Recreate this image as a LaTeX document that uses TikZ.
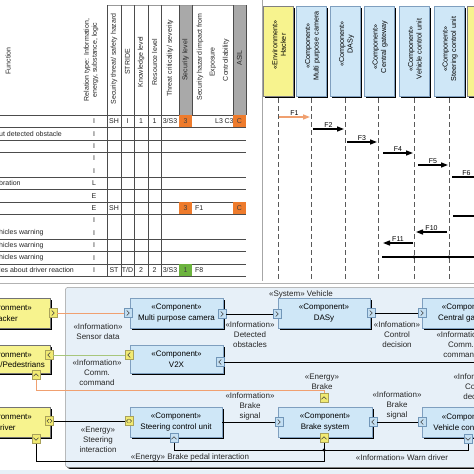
\documentclass[tikz,border=0pt]{standalone}
\usepackage{fontspec}
\setmainfont{Liberation Sans}
\usetikzlibrary{arrows.meta,shadows}
\definecolor{envY}{HTML}{F7F38E}
\definecolor{compB}{HTML}{CFE7F7}
\definecolor{compBd}{HTML}{7F9FBF}
\definecolor{portY}{HTML}{F1EA72}
\definecolor{portYd}{HTML}{A9A25A}
\definecolor{portB}{HTML}{C4DFF2}
\definecolor{portBd}{HTML}{7196B8}
\definecolor{orL}{HTML}{F0A070}
\definecolor{grL}{HTML}{A8C67C}
\definecolor{cellO}{HTML}{EE7B2C}
\definecolor{cellG}{HTML}{6CB33E}
\definecolor{hdrG}{HTML}{A9A9A9}
\definecolor{sysB}{HTML}{E7F0F8}
\tikzset{
 tt/.style={font=\fontsize{7}{8}\selectfont, inner sep=0pt, text=black!85},
 hdr/.style={tt, rotate=90, align=center},
 grid/.style={draw=black!70, line width=0.6pt},
 hcell/.style={inner sep=0pt, minimum width=13pt, minimum height=12.4pt, font=\fontsize{7}{8}\selectfont, text=black!75},
 shadowed/.style={drop shadow={shadow xshift=1.6pt, shadow yshift=-1.6pt, opacity=1, fill=black}},
 headY/.style={draw=black!50, fill=envY, line width=0.4pt, minimum width=30pt, minimum height=90pt, inner sep=0pt, shadowed},
 headB/.style={headY, draw=compBd, fill=compB},
 headtxt/.style={font=\fontsize{7.2}{8.5}\selectfont, rotate=90, align=center, inner sep=0pt},
 lifeline/.style={draw=black!65, line width=0.8pt, dash pattern=on 5pt off 3pt},
 msg/.style={draw=black, line width=1.3pt, -{Triangle[length=7pt,width=5pt]}},
 msgO/.style={msg, draw=orL, color=orL},
 flab/.style={above, font=\fontsize{7}{8}\selectfont, inner sep=1pt, text=black},
 ebox/.style={draw=black!55, fill=envY, line width=0.4pt, inner sep=0pt, shadowed, font=\fontsize{8}{10.5}\selectfont, align=center},
 cbox/.style={ebox, draw=compBd, fill=compB},
 btxt/.style={font=\fontsize{8}{10.5}\selectfont, inner sep=0pt, align=center},
 lbl/.style={font=\fontsize{8}{10}\selectfont, inner sep=0pt, align=center, text=black!85},
 port/.style={minimum width=8pt, minimum height=9pt, inner sep=0pt, line width=0.4pt},
 pY/.style={port, draw=portYd, fill=portY},
 pB/.style={port, draw=portBd, fill=portB},
 chv/.style={draw=black!75, line width=0.5pt},
 pR/.style={path picture={\draw[chv, shift={(path picture bounding box.center)}] (-1.3pt,2.5pt) -- (1.3pt,0pt) -- (-1.3pt,-2.5pt);}},
 pL/.style={path picture={\draw[chv, shift={(path picture bounding box.center)}] (1.3pt,2.5pt) -- (-1.3pt,0pt) -- (1.3pt,-2.5pt);}},
 pU/.style={path picture={\draw[chv, shift={(path picture bounding box.center)}] (-2.5pt,-1.3pt) -- (0pt,1.3pt) -- (2.5pt,-1.3pt);}},
 pD/.style={path picture={\draw[chv, shift={(path picture bounding box.center)}] (-2.5pt,1.3pt) -- (0pt,-1.3pt) -- (2.5pt,1.3pt);}},
 pLR/.style={path picture={\draw[chv, shift={(path picture bounding box.center)}] (-0.6pt,2pt) -- (-2.6pt,0pt) -- (-0.6pt,-2pt) (0.6pt,2pt) -- (2.6pt,0pt) -- (0.6pt,-2pt);}},
 conn/.style={draw=black, line width=1pt},
 connO/.style={draw=orL, line width=1pt},
 connG/.style={draw=grL, line width=1pt},
}
\begin{document}
\begin{tikzpicture}[x=1pt,y=-1pt]
\useasboundingbox (0,0) rectangle (474,474);
\clip (0,0) rectangle (474,474);
\fill[white] (0,0) rectangle (474,474);

% ================= TABLE =================
\fill[hdrG] (179,5) rectangle (192,115);
\fill[hdrG] (233,5) rectangle (246,115);
\draw[grid, draw=black!40] (107,5) -- (246,5);
\foreach \x in {107,121,134,148,161,179,192,233,246} \draw[grid] (\x,5) -- (\x,115);
\draw[grid] (0,115) -- (246,115);
\foreach \y in {127.4,139.8,152.2,177,189.4,201.8,214.2,239,251.4,263.8,276.2} \draw[grid] (0,\y) -- (246,\y);
\foreach \x in {107,121,134,148,161} \draw[grid] (\x,115) -- (\x,276.2);

\node[hdr] (hFun) at (8,61) {Function};
\node[hdr] (hRel) at (91,60) {Relation type: Information,\\energy, substance, logic};
\node[hdr] (hSec) at (114,59) {Security threat/ safety hazard};
\node[hdr] (hStr) at (127.5,62) {STRIDE};
\node[hdr] (hKno) at (141,62) {Knowledge level};
\node[hdr] (hRes) at (154.5,62) {Resource level};
\node[hdr] (hThr) at (170,58) {Threat criticality/ severity};
\node[hdr] (hSL) at (185.5,60) {Security level};
\node[hdr] (hImp) at (200,57) {Security hazard impact from};
\node[hdr] (hExp) at (213,62) {Exposure};
\node[hdr] (hCon) at (226,60) {Controllability};
\node[hdr] (hAsil) at (239.5,58) {ASIL};

\foreach \r/\v in {1/I,2/I,3/I,4/I,5/I,6/L,7/E,8/E,9/I,10/I,11/I,12/I,13/I}
  \node[tt] (rel\r) at (94,{115+12.4*(\r-0.5)}) {\v};

\node[tt, anchor=west] (fn2) at (-1,133.6) {ut detected obstacle};
\node[tt, anchor=west] (fn6) at (-1,183.2) {bration};
\node[tt, anchor=west] (fn10) at (-1,232.8) {hicles warning};
\node[tt, anchor=west] (fn11) at (-1,245.2) {hicles warning};
\node[tt, anchor=west] (fn12) at (-1,257.6) {hicles warning};
\node[tt, anchor=west] (fn13) at (-1,270) {les about driver reaction};

% row 1
\node[tt] (r1a) at (114,121.2) {SH};
\node[tt] (r1b) at (127.5,121.2) {I};
\node[tt] (r1c) at (141,121.2) {1};
\node[tt] (r1d) at (154.5,121.2) {1};
\node[tt] (r1e) at (170,121.2) {3/S3};
\node[hcell, fill=cellO] (r1f) at (185.5,121.2) {3};
\node[tt] (r1g) at (219,121.2) {L3};
\node[tt] (r1h) at (229,121.2) {C3};
\node[hcell, fill=cellO] (r1i) at (239.5,121.2) {C};
% row 8
\node[tt] (r8a) at (114,208) {SH};
\node[hcell, fill=cellO] (r8f) at (185.5,208) {3};
\node[tt, anchor=west] (r8g) at (195,208) {F1};
\node[hcell, fill=cellO] (r8i) at (239.5,208) {C};
% row 13
\node[tt] (r13a) at (114,270) {ST};
\node[tt] (r13b) at (127.5,270) {T/D};
\node[tt] (r13c) at (141,270) {2};
\node[tt] (r13d) at (154.5,270) {2};
\node[tt] (r13e) at (170,270) {3/S3};
\node[hcell, fill=cellG] (r13f) at (185.5,270) {1};
\node[tt, anchor=west] (r13g) at (195,270) {F8};

% ================= SEQUENCE =================
\draw[draw=black!35, line width=0.5pt] (262,0) -- (262,281);
\node[headY] (hd1) at (278,51) {};
\node[headB] (hd2) at (311.5,51) {};
\node[headB] (hd3) at (345.5,51) {};
\node[headB] (hd4) at (379,51) {};
\node[headB] (hd5) at (414,51) {};
\node[headB] (hd6) at (449,51) {};
\node[headY] (hd7) at (482,51) {};
\node[headtxt] (ht1) at (279,45) {«Environment»\\Hacker};
\node[headtxt] (ht2) at (312.5,46) {«Component»\\Multi purpose camera};
\node[headtxt] (ht3) at (346.5,44) {«Component»\\DASy};
\node[headtxt] (ht4) at (380,47) {«Component»\\Central gateway};
\node[headtxt] (ht5) at (415,49) {«Component»\\Vehicle control unit};
\node[headtxt] (ht6) at (450,49) {«Component»\\Steering control unit};
\foreach \i/\x in {1/278,2/311,3/345,4/378,5/414,6/449,7/482}{
  \coordinate (le\i) at (\x,281);
  \coordinate (ls\i) at (\x,98);
  \draw[lifeline] (ls\i) -- (le\i);
}
\coordinate (f1s) at (279,117); \coordinate (f1e) at (310,117);
\coordinate (f2s) at (313,129); \coordinate (f2e) at (344,129);
\coordinate (f3s) at (347,142); \coordinate (f3e) at (377,142);
\coordinate (f4s) at (383,153); \coordinate (f4e) at (413,153);
\coordinate (f5s) at (418,165); \coordinate (f5e) at (448,165);
\coordinate (f6s) at (452,177); \coordinate (f6e) at (481,177);
\coordinate (f7s) at (453,216); \coordinate (f7e) at (482,216);
\coordinate (f10s) at (447,232); \coordinate (f10e) at (416,232);
\coordinate (f11s) at (413,243); \coordinate (f11e) at (383,243);
\coordinate (f12s) at (382,257); \coordinate (f12e) at (482,257);
\draw[msgO] (f1s) -- node[flab] (l1) {F1} (f1e);
\draw[msg] (f2s) -- node[flab] (l2) {F2} (f2e);
\draw[msg] (f3s) -- node[flab] (l3) {F3} (f3e);
\draw[msg] (f4s) -- node[flab] (l4) {F4} (f4e);
\draw[msg] (f5s) -- node[flab] (l5) {F5} (f5e);
\draw[msg] (f6s) -- node[flab] (l6) {F6} (f6e);
\draw[draw=black, line width=1.3pt] (f7s) -- (f7e);
\draw[msg] (f10s) -- node[flab] (l10) {F10} (f10e);
\draw[msg] (f11s) -- node[flab] (l11) {F11} (f11e);
\draw[draw=black, line width=1.3pt] (f12s) -- (f12e);
\fill (414,257) circle (1.6pt);
\fill (449,257) circle (1.6pt);

% ================= BLOCK DIAGRAM =================
\draw[draw=black!30, line width=0.6pt] (0,283) -- (474,283);
\fill[sysB] (0,470) rectangle (474,474);
\node[draw=black!40, fill=sysB, line width=0.5pt, rounded corners=3pt, anchor=north west, minimum width=440pt, minimum height=180pt, inner sep=0pt, shadowed] (sys) at (65,287) {};
\node[lbl] (sysl) at (301,294) {«System» Vehicle};

\node[ebox, minimum width=90pt, minimum height=30pt] (hackE) at (5,313) {«Environment»\\Hacker};
\node[ebox, minimum width=90pt, minimum height=28pt] (othE) at (5,359) {};
\node[btxt] (othT1) at (5,355) {«Environment»};
\node[btxt, anchor=east] (othT2) at (45,365) {/Pedestrians};
\node[ebox, minimum width=90pt, minimum height=30pt] (drvE) at (5,422) {«Environment»\\Driver};

\node[cbox, minimum width=93pt, minimum height=30pt] (cam) at (176.5,313) {«Component»\\Multi purpose camera};
\node[cbox, minimum width=93pt, minimum height=28pt] (v2x) at (176.5,359) {«Component»\\V2X};
\node[cbox, minimum width=92pt, minimum height=30pt] (das) at (324,313) {«Component»\\DASy};
\node[cbox, minimum width=90pt, minimum height=30pt] (cgw) at (467,313) {«Component»\\Central gateway};
\node[cbox, minimum width=92pt, minimum height=30pt] (str) at (176,422) {«Component»\\Steering control unit};
\node[cbox, minimum width=94pt, minimum height=30pt] (brk) at (325,422) {«Component»\\Brake system};
\node[cbox, minimum width=90pt, minimum height=30pt] (vcu) at (467,422) {«Component»\\Vehicle control unit};

% ports
\node[pY, pR] (hackP) at (53,313) {};
\node[pB, pR] (camL) at (128,313) {};
\node[pB, pR] (camR) at (222,314) {};
\node[pB, pR] (dasL) at (277,314) {};
\node[pB, pR] (dasR) at (371,313) {};
\node[pB, pR] (cgwL) at (422,313) {};
\node[pY, pL] (othP) at (49,355) {};
\node[pY, pU] (othB) at (36,375) {};
\node[pY, pL] (v2xL) at (129,355) {};
\node[pB, pL] (v2xR) at (220,362) {};
\node[pY, pLR] (drvP) at (49.5,421) {};
\node[pY, pD] (drvB) at (36,439) {};
\node[pY, pLR] (strL) at (129,421) {};
\node[pB, pU] (strB) at (174,438) {};
\node[pY, pU] (brkT) at (324,398) {};
\node[pY, pU] (brkB) at (324,438) {};
\node[pB, pR] (brkL) at (279,422) {};
\node[pB, pL] (brkR) at (373,422) {};
\node[pB, pL] (vcuL) at (422,422) {};
\node[pB, pD] (vcuB) at (468,439) {};

% connectors
\coordinate (jo1) at (36,390);
\coordinate (v2xE) at (480,362);
\coordinate (jd1) at (36,461);
\coordinate (jw1) at (174,450);
\coordinate (jw2) at (468,450);
\draw[connO] (hackP) -- (camL);
\draw[connG] (othP) -- (v2xL);
\draw[connO] (othB) -- (jo1) -| (brkT);
\draw[conn] (camR) -- (dasL);
\draw[conn] (dasR) -- (cgwL);
\draw[conn] (v2xR) -- (v2xE);
\draw[conn] (drvP) -- (strL);
\draw[conn] (str) -- (brkL);
\draw[conn] (brkR) -- (vcuL);
\draw[conn] (drvB) -- (jd1) -| (brkB);
\draw[conn] (strB) -- (jw1) -- (jw2) -- (vcuB);
\fill (324,450) circle (1.6pt);

% labels
\node[lbl] (sensL) at (98,332) {«Information»\\Sensor data};
\node[lbl] (commL) at (97,372.5) {«Information»\\Comm.\\command};
\node[lbl] (steerL) at (98,440) {«Energy»\\Steering\\interaction};
\node[lbl] (pedalL) at (190,457) {«Energy» Brake pedal interaction};
\node[lbl] (detL) at (250,335) {«Information»\\Detected\\obstacles};
\node[lbl] (ctrlL) at (397,335) {«Infomation»\\Control\\decision};
\node[lbl] (comm2L) at (461,345) {«Information»\\Comm.\\command};
\node[lbl] (enBL) at (322,381.5) {«Energy»\\Brake};
\node[lbl] (ctrl2L) at (478,387) {«Information»\\Control\\decision};
\node[lbl] (bsig1L) at (250,406.5) {«Information»\\Brake\\signal};
\node[lbl] (bsig2L) at (397,405) {«Information»\\Brake\\signal};
\node[lbl] (warnL) at (402,458) {«Information» Warn driver};
\end{tikzpicture}
\end{document}
